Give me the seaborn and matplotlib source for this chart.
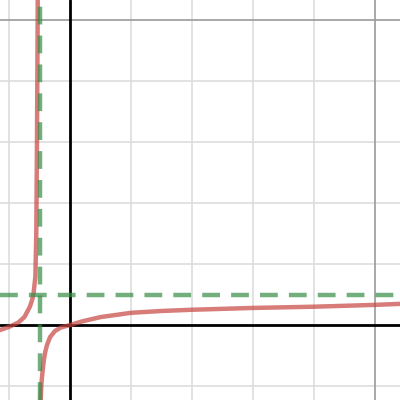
import matplotlib
matplotlib.use("Agg")
import matplotlib.pyplot as plt
import seaborn as sns

# right branch of the curve
right_x = [-0.485, -0.47, -0.45, -0.43, -0.41, -0.38, -0.33, -0.25, -0.15, 0.0, 0.2, 0.5, 1.0, 1.5, 2.0, 3.0, 4.0, 5.0, 5.5]
right_y = [-1.3, -0.95, -0.74, -0.57, -0.45, -0.33, -0.2, -0.1, -0.04, 0.0, 0.06, 0.13, 0.2, 0.23, 0.25, 0.28, 0.30, 0.33, 0.35]
# left branch
left_x = [-1.2, -1.0, -0.85, -0.75, -0.66, -0.62, -0.6, -0.57, -0.555, -0.545, -0.535, -0.53]
left_y = [-0.1, -0.03, 0.04, 0.13, 0.3, 0.42, 0.52, 0.79, 1.5, 2.8, 4.5, 5.6]
asym_x = -0.5
asym_y = 0.5

sns.set_style("white")
fig = plt.figure(figsize=(4, 4), dpi=100)
ax = fig.add_axes([0, 0, 1, 1])
ax.set_xlim(-1.15, 5.41)
ax.set_ylim(-1.23, 5.33)

for v in range(-1, 6):
    c = "#9a9a9a" if v == 5 else "#dddddd"
    ax.axvline(v, color=c, lw=1.2, zorder=0)
    ax.axhline(v, color=c, lw=1.2, zorder=0)
ax.axvline(0, color="black", lw=2, zorder=1)
ax.axhline(0, color="black", lw=2, zorder=1)

sns.lineplot(x=right_x, y=right_y, ax=ax, color="#c74440", alpha=0.7, lw=3.2, sort=False, zorder=3)
sns.lineplot(x=left_x, y=left_y, ax=ax, color="#c74440", alpha=0.7, lw=3.2, sort=False, zorder=3)
ax.axvline(asym_x, color="#388c46", alpha=0.7, lw=3.2, ls=(0, (4, 2.5)), zorder=4)
ax.axhline(asym_y, color="#388c46", alpha=0.7, lw=3.2, ls=(0, (4, 2.5)), zorder=4)

ax.set_xticks([])
ax.set_yticks([])
for s in ax.spines.values():
    s.set_visible(False)
fig.savefig("out.png", dpi=100)
